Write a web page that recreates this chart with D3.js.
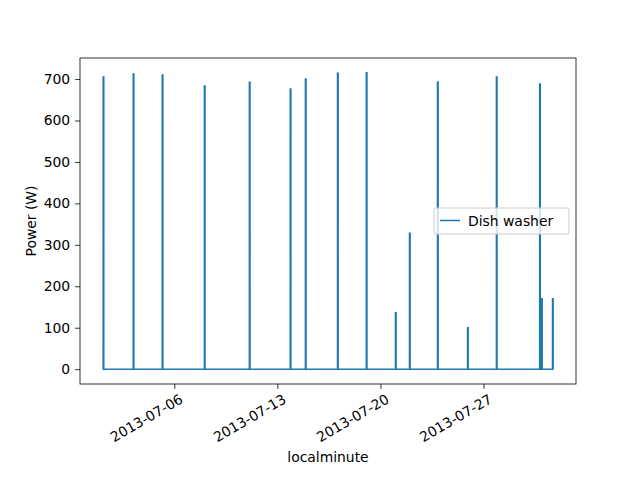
<!DOCTYPE html>
<html><head><meta charset="utf-8">
<script src="https://cdn.jsdelivr.net/npm/d3@7"></script>
<style>body{margin:0;background:#fff}text{font-family:"DejaVu Sans",sans-serif}</style>
</head><body><svg width="640" height="480"></svg>
<script>
// Dish washer run start times (local) and peak power (W)
const spikeTimes = ["2013-07-01 04:00","2013-07-03 05:00","2013-07-05 04:20","2013-07-08 01:00",
  "2013-07-11 02:20","2013-07-13 21:00","2013-07-14 21:40","2013-07-17 02:00","2013-07-19 01:00",
  "2013-07-21 00:30","2013-07-21 23:20","2013-07-23 21:00","2013-07-25 22:00","2013-07-27 21:00",
  "2013-07-30 19:30","2013-07-30 22:40","2013-07-31 16:30"];
const spikeWatts = [705,712,710,683,692,676,700,714,715,136,328,693,100,705,688,170,170];
const seriesStart = "2013-07-01 03:00", seriesEnd = "2013-07-31 18:00";
const yTicks = [0,100,200,300,400,500,600,700];
const xTickDates = ["2013-07-06","2013-07-13","2013-07-20","2013-07-27"];
const seriesName = "Dish washer";

const parse = d3.timeParse("%Y-%m-%d %H:%M"), parseDay = d3.timeParse("%Y-%m-%d");
const m = {left:80, right:576, top:58, bottom:384};
const blue = "#1f77b4", fs = 13.9;

// build the series: baseline zero with a short run at each spike
const pts = [{t: parse(seriesStart), v: 0}];
spikeTimes.forEach((s, i) => {
  const t = parse(s);
  pts.push({t: new Date(+t - 60e3), v: 0}, {t, v: spikeWatts[i]},
           {t: new Date(+t + 60*60e3), v: spikeWatts[i]}, {t: new Date(+t + 61*60e3), v: 0});
});
pts.push({t: parse(seriesEnd), v: 0});

const tExt = d3.extent(pts, d => d.t), span = tExt[1] - tExt[0];
const x = d3.scaleTime().domain([new Date(+tExt[0] - span*0.05), new Date(+tExt[1] + span*0.05)]).range([m.left, m.right]);
const vMax = d3.max(spikeWatts);
const y = d3.scaleLinear().domain([-vMax*0.05, vMax*1.05]).range([m.bottom, m.top]);

const svg = d3.select("svg");

svg.append("path").datum(pts)
  .attr("fill", "none").attr("stroke", blue).attr("stroke-width", 1.5)
  .attr("d", d3.line().x(d => x(d.t)).y(d => y(d.v)));

// axes
const yAxis = svg.append("g").attr("transform", `translate(${m.left},0)`)
  .call(d3.axisLeft(y).tickValues(yTicks).tickSize(4.9).tickPadding(4.9));
const xAxis = svg.append("g").attr("transform", `translate(0,${m.bottom})`)
  .call(d3.axisBottom(x).tickValues(xTickDates.map(parseDay)).tickSize(4.9).tickFormat(d3.timeFormat("%Y-%m-%d")));
[xAxis, yAxis].forEach(g => {
  g.select(".domain").remove();
  g.selectAll("line").attr("stroke", "#000").attr("stroke-width", 0.8);
  g.selectAll("text").attr("font-size", fs).attr("fill", "#000").style("font-family", "DejaVu Sans");
});
xAxis.selectAll("text").attr("text-anchor", "end").attr("dy", null).attr("y", 0)
  .attr("transform", "translate(4,9) rotate(-30)").attr("dominant-baseline", "hanging");

svg.append("rect").attr("x", m.left).attr("y", m.top).attr("width", m.right - m.left)
  .attr("height", m.bottom - m.top).attr("fill", "none").attr("stroke", "#000").attr("stroke-width", 0.8);

svg.append("text").attr("x", (m.left + m.right)/2).attr("y", 462).attr("text-anchor", "middle")
  .attr("font-size", fs).text("localminute");
svg.append("text").attr("transform", `translate(36,${(m.top + m.bottom)/2}) rotate(-90)`)
  .attr("text-anchor", "middle").attr("font-size", fs).text("Power (W)");

// legend
const lg = svg.append("g").attr("transform", "translate(434,208)");
lg.append("rect").attr("width", 135).attr("height", 26).attr("rx", 2)
  .attr("fill", "#fff").attr("fill-opacity", 0.8).attr("stroke", "#ccc");
lg.append("line").attr("x1", 6).attr("x2", 26).attr("y1", 12.5).attr("y2", 12.5)
  .attr("stroke", blue).attr("stroke-width", 1.5);
lg.append("text").attr("x", 34).attr("y", 17.5).attr("font-size", fs).text(seriesName);
</script></body></html>
